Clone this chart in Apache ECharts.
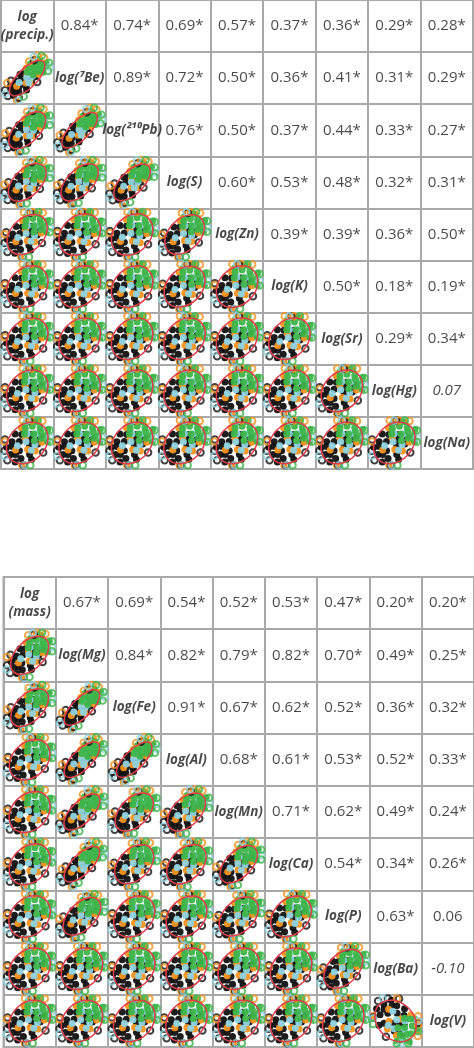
<!DOCTYPE html>
<html><head><meta charset="utf-8">
<script src="https://cdn.jsdelivr.net/npm/echarts@6/dist/echarts.min.js"></script>
<style>html,body{margin:0;padding:0;background:#fff}#c{width:474px;height:1048px}</style>
</head><body><div id="c"></div>
<script>
const topNames = ['log\n(precip.)','log(⁷Be)','log(²¹⁰Pb)','log(S)','log(Zn)','log(K)','log(Sr)','log(Hg)','log(Na)'];
const topValues = [
 ['0.84*','0.74*','0.69*','0.57*','0.37*','0.36*','0.29*','0.28*'],
 ['0.89*','0.72*','0.50*','0.36*','0.41*','0.31*','0.29*'],
 ['0.76*','0.50*','0.37*','0.44*','0.33*','0.27*'],
 ['0.60*','0.53*','0.48*','0.32*','0.31*'],
 ['0.39*','0.39*','0.36*','0.50*'],
 ['0.50*','0.18*','0.19*'],
 ['0.29*','0.34*'],
 ['0.07']
];
const botNames = ['log\n(mass)','log(Mg)','log(Fe)','log(Al)','log(Mn)','log(Ca)','log(P)','log(Ba)','log(V)'];
const botValues = [
 ['0.67*','0.69*','0.54*','0.52*','0.53*','0.47*','0.20*','0.20*'],
 ['0.84*','0.82*','0.79*','0.82*','0.70*','0.49*','0.25*'],
 ['0.91*','0.67*','0.62*','0.52*','0.36*','0.32*'],
 ['0.68*','0.61*','0.53*','0.52*','0.33*'],
 ['0.71*','0.62*','0.49*','0.24*'],
 ['0.54*','0.34*','0.26*'],
 ['0.63*','0.06'],
 ['-0.10']
];
const italicValues = ['0.07','-0.10'];
// shared point cloud (major-axis u, minor-axis v), estimated from a typical cell
const blackFill = [[-0.9,0.2],[-0.7,-0.4],[-0.6,0.5],[-0.5,0],[-0.3,-0.6],[-0.2,0.4],[0,-0.2],[0.1,0.6],[0.3,-0.5],[-1.0,-0.3],[-0.8,0.7],[0.4,0.2],[-0.4,-0.9],[0.6,-0.3],[-0.1,0.9],[0.2,0.1],[-0.75,0],[-0.45,0.7]];
const blackRing = [[-1.1,0.8],[-0.9,-0.9],[-1.2,0.1],[-0.6,1.1],[0.2,-1.1],[0.8,0.9]];
const greenFill = [[0.9,0.1],[0.7,0.5],[0.6,-0.4],[0.4,0.7],[0.8,-0.1],[0.5,0.1],[1.0,0.5],[0.3,-0.2],[0.7,-0.8],[0.2,0.5],[1.1,-0.3],[0.55,0.9],[0.85,-0.5]];
const greenRing = [[1.2,0.7],[0.9,-1.1],[-0.7,-1.2],[1.2,-0.5]];
const orangeFill = [[-0.2,-0.3],[0.1,0.3],[0.5,-0.6],[-0.6,0.2],[0.3,0.9],[-1.1,-1.0],[0.9,0.8],[0.0,-0.7]];
const orangeRing = [[1.1,1.1],[-0.8,1.2],[0.6,1.2],[1.2,0.3]];
const cyanFill = [[0,0.1],[0.3,0.4],[-0.4,0.3],[0.6,0],[-0.1,-0.5],[0.2,-0.4]];
const cyanRing = [[-1.0,-1.1],[1.1,-1.0],[-1.2,0.5],[0.9,1.2]];

const C = {black:'#111111', green:'#3db54a', orange:'#f7941e', cyan:'#8fd3e0', red:'#e23c4b', grid:'#a9a9a9', text:'#1a1a1a'};
const A = 0.42;
function shape(r){const ar=Math.abs(r);let q=Math.sqrt((1-ar)/(1+ar))*1.3;q=Math.min(0.75,Math.max(0.4,q));return {a:A,b:A*q,ang:(r>=0?45:-45)*Math.PI/180};}
function corr(vals,i,j){return parseFloat(vals[j][i-j-1]);}

const series=[];
function build(g, names, vals){
  const n=names.length;
  const cells=[];
  for(let i=1;i<n;i++)for(let j=0;j<i;j++)cells.push([j+0.5,i+0.5,corr(vals,i,j)]);
  const groups=[[blackFill,C.black,true],[orangeFill,C.orange,true],[cyanFill,C.cyan,true],[greenFill,C.green,true],
                [blackRing,C.black,false],[orangeRing,C.orange,false],[cyanRing,C.cyan,false],[greenRing,C.green,false]];
  groups.forEach(([pts,col,fill])=>{
    const data=[];
    cells.forEach(([cx,cy,r])=>{const s=shape(r);const co=Math.cos(s.ang),si=Math.sin(s.ang);
      pts.forEach(([u,v])=>{let x=cx+u*s.a*co-v*s.b*si, y=cy-(u*s.a*si+v*s.b*co);
        x=Math.min(cx+0.43,Math.max(cx-0.43,x));y=Math.min(cy+0.43,Math.max(cy-0.43,y));data.push([x,y]);});});
    series.push({type:'scatter',xAxisIndex:g,yAxisIndex:g,data,symbolSize:fill?7:6.5,silent:true,z:2,
      itemStyle:fill?{color:col,opacity:0.95}:{color:'rgba(0,0,0,0)',borderColor:col,borderWidth:2}});
  });
  series.push({type:'custom',xAxisIndex:g,yAxisIndex:g,data:cells,z:5,silent:true,
    renderItem:(p,api)=>{const c=api.coord([api.value(0),api.value(1)]);const sz=api.size([1,1]);const s=shape(api.value(2));
      return {type:'ellipse',x:c[0],y:c[1],rotation:s.ang,shape:{cx:0,cy:0,rx:s.a*sz[0]*1.05,ry:s.b*sz[1]*1.1},
        style:{fill:'none',stroke:C.red,lineWidth:1.5}};}});
  const lab=[];
  names.forEach((nm,k)=>lab.push({value:[k+0.5,k+0.5],name:nm,diag:true}));
  vals.forEach((row,i)=>row.forEach((t,k)=>lab.push({value:[i+k+1.5,i+0.5],name:t,diag:false})));
  series.push({type:'scatter',xAxisIndex:g,yAxisIndex:g,symbolSize:0,silent:true,z:6,
    data:lab.map(d=>({value:d.value,label:{show:true,position:'inside',formatter:d.name,color:C.text,
      fontFamily:'Open Sans',fontSize:d.diag?13.5:15,fontWeight:d.diag?'bold':'normal',
      fontStyle:(d.diag||italicValues.includes(d.name))?'italic':'normal',lineHeight:18}}))});
}
build(0,topNames,topValues);
build(1,botNames,botValues);

const ax=(type)=>({type:'value',min:0,max:9,interval:1,inverse:type==='y',axisLine:{show:false},axisTick:{show:false},axisLabel:{show:false},
  splitLine:{show:true,lineStyle:{color:C.grid,width:2}}});
const chart=echarts.init(document.getElementById('c'),null,{renderer:'canvas'});
chart.setOption({animation:false,
  grid:[{left:1,top:0,width:472,height:469,show:true,borderColor:C.grid,borderWidth:2},
        {left:3.5,top:577,width:472.5,height:470,show:true,borderColor:C.grid,borderWidth:2}],
  xAxis:[Object.assign(ax('x'),{gridIndex:0}),Object.assign(ax('x'),{gridIndex:1})],
  yAxis:[Object.assign(ax('y'),{gridIndex:0}),Object.assign(ax('y'),{gridIndex:1})],
  series});
</script></body></html>
